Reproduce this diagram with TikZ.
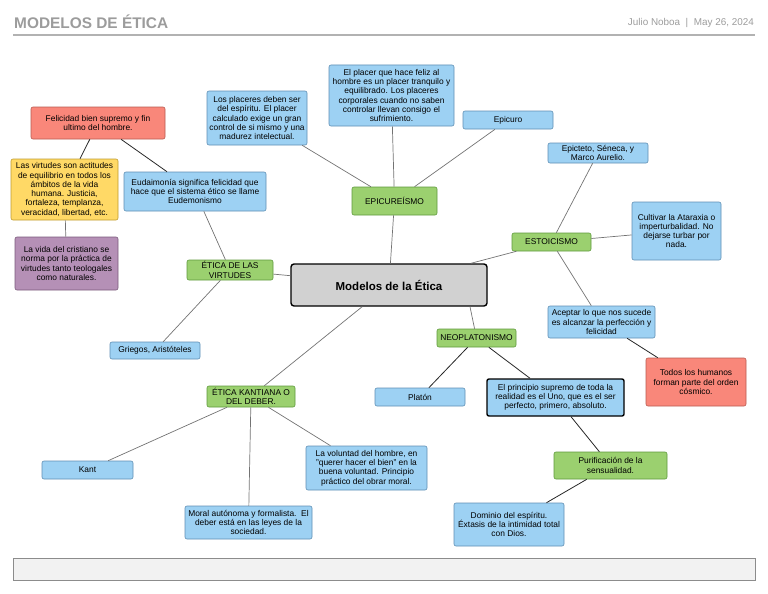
\documentclass[tikz,border=0pt]{standalone}
\usepackage{fontspec}
\setmainfont{Liberation Sans}
\definecolor{skyfill}{HTML}{9DD1F3}
\definecolor{skyline}{HTML}{5F8FB4}
\definecolor{leaffill}{HTML}{9BD06F}
\definecolor{leafline}{HTML}{5F9A3C}
\definecolor{salmonfill}{HTML}{F9877A}
\definecolor{salmonline}{HTML}{B85A50}
\definecolor{sunfill}{HTML}{FFD966}
\definecolor{sunline}{HTML}{BF9B30}
\definecolor{plumfill}{HTML}{B590B6}
\definecolor{plumline}{HTML}{7A5A7C}
\definecolor{headgray}{HTML}{9C9C9C}
\begin{document}
\begin{tikzpicture}[x=1pt, y=-1pt,
  box/.style={rectangle, rounded corners=2pt, draw, line width=0.6pt, align=center, inner sep=0.5pt, font=\fontsize{8.4}{9.3}\selectfont},
  idea/.style={box, fill=skyfill, draw=skyline},
  school/.style={box, fill=leaffill, draw=leafline},
  goal/.style={box, fill=salmonfill, draw=salmonline},
  virtue/.style={box, fill=sunfill, draw=sunline},
  faith/.style={box, fill=plumfill, draw=plumline},
  core/.style={rectangle, rounded corners=3pt, draw=black, line width=1.4pt, fill=black!18, font=\fontsize{11.5}{13}\selectfont\bfseries},
  link/.style={draw=black!55, line width=0.7pt},
  darklink/.style={draw=black!85, line width=0.8pt}
]
  \useasboundingbox (0,0) rectangle (768,594);

  % header and footer
  \node[anchor=west, text=headgray, font=\fontsize{15.4}{17}\selectfont\bfseries, inner sep=0pt] (title) at (14,22) {MODELOS DE ÉTICA};
  \node[anchor=east, text=headgray, font=\fontsize{9.9}{11}\selectfont, inner sep=0pt] (author) at (754,23) {Julio Noboa~~|~~May 26, 2024};
  \draw[black!30, line width=1.5pt] (13,35) -- (755,35);
  \draw[black!45, fill=black!5, line width=0.8pt] (13,558) rectangle (755,580);

  \node[core, minimum width=196pt, minimum height=42pt] (core) at (389,285) {Modelos de la Ética};

  % virtudes
  \node[goal, minimum width=134pt, minimum height=32pt] (feli) at (98,123) {Felicidad bien supremo y fin\\ultimo del hombre.};
  \node[virtue, minimum width=107pt, minimum height=61pt] (virt) at (64.5,189.5) {Las virtudes son actitudes\\de equilibrio en todos los\\ámbitos de la vida\\humana. Justicia,\\fortaleza, templanza,\\veracidad, libertad, etc.};
  \node[faith, minimum width=103pt, minimum height=53pt] (vida) at (66.5,263.5) {La vida del cristiano se\\norma por la práctica de\\virtudes tanto teologales\\como naturales.};
  \node[idea, minimum width=142pt, minimum height=39pt] (eudai) at (195,191.5) {Eudaimonía significa felicidad que\\hace que el sistema ético se llame\\Eudemonismo};
  \node[school, minimum width=86pt, minimum height=20pt] (etvir) at (230,270) {ÉTICA DE LAS\\VIRTUDES};
  \node[idea, minimum width=90pt, minimum height=17pt] (grieg) at (155,350.5) {Griegos, Aristóteles};

  % epicureismo
  \node[idea, minimum width=100pt, minimum height=54pt] (plac) at (257,118) {Los placeres deben ser\\del espíritu. El placer\\calculado exige un gran\\control de si mismo y una\\madurez intelectual.};
  \node[idea, minimum width=125pt, minimum height=61pt] (tranq) at (391.5,95.5) {El placer que hace feliz al\\hombre es un placer tranquilo y\\equilibrado. Los placeres\\corporales cuando no saben\\controlar llevan consigo el\\sufrimiento.};
  \node[idea, minimum width=90pt, minimum height=18pt] (epicuro) at (508,120) {Epicuro};
  \node[school, minimum width=85pt, minimum height=28pt] (epic) at (394.5,201) {EPICUREÍSMO};

  % estoicismo
  \node[idea, minimum width=100pt, minimum height=20pt] (epict) at (598,153) {Epicteto, Séneca, y\\Marco Aurelio.};
  \node[idea, minimum width=89pt, minimum height=58pt] (atar) at (676.5,231) {Cultivar la Ataraxia o\\imperturbalidad. No\\dejarse turbar por\\nada.};
  \node[school, minimum width=79pt, minimum height=18pt] (estoi) at (551.5,242) {ESTOICISMO};
  \node[idea, minimum width=107pt, minimum height=32pt] (acept) at (601.5,322) {Aceptar lo que nos sucede\\es alcanzar la perfección y\\felicidad};
  \node[goal, minimum width=100pt, minimum height=48pt] (todos) at (696,382) {Todos los humanos\\forman parte del orden\\cósmico.};

  % neoplatonismo
  \node[school, minimum width=79pt, minimum height=18pt] (neo) at (476.5,338) {NEOPLATONISMO};
  \node[idea, minimum width=90pt, minimum height=18pt] (platon) at (420,397) {Platón};
  \node[idea, draw=black, line width=1.4pt, minimum width=137pt, minimum height=37pt] (princ) at (555.5,397.5) {El principio supremo de toda la\\realidad es el Uno, que es el ser\\perfecto, primero, absoluto.};
  \node[school, minimum width=113pt, minimum height=27pt] (purif) at (610.5,465.5) {Purificación de la\\sensualidad.};
  \node[idea, minimum width=110pt, minimum height=43pt] (domin) at (509,524.5) {Dominio del espíritu.\\Éxtasis de la intimidad total\\con Dios.};

  % etica kantiana
  \node[school, minimum width=88pt, minimum height=21pt] (kanti) at (251,396.5) {ÉTICA KANTIANA O\\DEL DEBER.};
  \node[idea, minimum width=91pt, minimum height=18pt] (kant) at (87.5,470) {Kant};
  \node[idea, minimum width=127pt, minimum height=33pt] (moral) at (248.5,522.5) {Moral autónoma y formalista.~~El\\deber está en las leyes de la\\sociedad.};
  \node[idea, minimum width=121pt, minimum height=44pt] (volun) at (366.5,468) {La voluntad del hombre, en\\"querer hacer el bien" en la\\buena voluntad. Principio\\práctico del obrar moral.};

  \draw[darklink] (feli) -- (virt);
  \draw[darklink] (feli) -- (eudai);
  \draw[link] (virt) -- (vida);
  \draw[link] (eudai) -- (etvir);
  \draw[link] (etvir) -- (core);
  \draw[link] (etvir) -- (grieg);
  \draw[link] (plac) -- (epic);
  \draw[link] (tranq) -- (epic);
  \draw[link] (epicuro) -- (epic);
  \draw[link] (epic) -- (core);
  \draw[link] (core) -- (estoi);
  \draw[link] (estoi) -- (epict);
  \draw[link] (estoi) -- (atar);
  \draw[link] (estoi) -- (acept);
  \draw[darklink] (acept) -- (todos);
  \draw[link] (core.-15) -- (neo);
  \draw[darklink] (neo) -- (platon);
  \draw[darklink] (neo) -- (princ);
  \draw[darklink] (princ) -- (purif);
  \draw[darklink] (purif) -- (domin);
  \draw[link] (core) -- (kanti);
  \draw[link] (kanti) -- (kant);
  \draw[link] (kanti) -- (moral);
  \draw[link] (kanti) -- (volun);
\end{tikzpicture}
\end{document}
